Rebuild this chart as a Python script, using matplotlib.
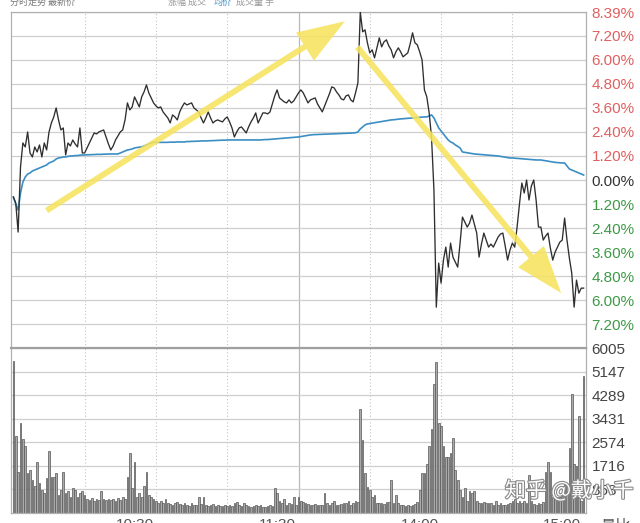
"""
Intraday time-share chart (分时图): price % change + average line on top,
per-minute volume bars below, two hand-drawn yellow trend arrows.
Saves out.png (640x523).
"""

import numpy as np
import matplotlib
matplotlib.use("Agg")
import matplotlib.pyplot as plt
from matplotlib.patches import FancyArrowPatch
import matplotlib.patheffects as pe

# ---- data ------------------------------------------------------------------
# % change vs previous close, one value per minute (0 = 9:30 ... 240 = 15:00)
price = [
    -0.85, -1.15, -2.6, 0.65, 1.85, 1.65, 2.4, 1.35, 1.15, 1.65,
    1.4, 1.75, 1.15, 1.85, 1.5, 2.4, 2.85, 3.15, 3.6, 3.0,
    2.5, 2.6, 1.25, 1.85, 1.7, 2.0, 1.8, 1.65, 2.6, 1.35,
    1.35, 1.6, 1.85, 2.1, 2.35, 2.3, 2.4, 2.45, 2.5, 2.15,
    1.8, 1.5, 1.7, 2.0, 2.2, 2.4, 2.5, 3.0, 3.85, 3.5,
    3.65, 4.15, 3.9, 3.65, 4.15, 4.4, 4.75, 4.35, 4.1, 3.85,
    3.7, 3.6, 3.65, 3.4, 3.25, 3.1, 2.85, 3.25, 3.15, 3.0,
    3.4, 3.65, 3.85, 3.75, 3.8, 3.85, 3.6, 3.5, 3.4, 3.1,
    2.85, 3.1, 3.4, 3.1, 2.85, 2.95, 3.0, 2.95, 2.9, 3.05,
    3.15, 2.9, 2.6, 2.15, 2.4, 2.6, 2.65, 2.5, 2.35, 2.65,
    2.9, 3.1, 3.35, 2.85, 3.1, 3.35, 3.35, 3.3, 3.4, 3.8,
    4.2, 4.5, 4.1, 4.0, 3.9, 3.85, 4.0, 3.85, 3.95, 4.15,
    4.35, 4.5, 4.35, 4.1, 3.85, 4.0, 4.05, 4.1, 3.8, 3.6,
    3.4, 3.7, 4.0, 4.3, 4.65, 4.6, 4.4, 4.25, 4.05, 4.0,
    4.2, 4.25, 4.0, 3.9, 4.35, 4.85, 8.39, 7.4, 7.5, 6.85,
    6.35, 6.5, 6.1, 6.6, 7.1, 6.65, 6.9, 7.0, 6.7, 6.5,
    6.1, 6.4, 6.6, 6.4, 6.15, 6.25, 6.35, 6.8, 7.35, 6.85,
    6.75, 6.4, 6.0, 4.5, 4.15, 3.35, 2.1, -0.5, -6.35, -4.15,
    -5.15, -4.0, -3.35, -4.35, -3.15, -3.85, -4.1, -4.35, -3.15, -1.85,
    -2.1, -2.35, -2.15, -1.75, -2.2, -2.65, -3.85, -3.2, -2.65, -3.0,
    -3.35, -3.2, -3.35, -3.1, -2.85, -2.7, -2.65, -3.3, -4.0, -3.5,
    -3.15, -3.35, -2.35, -1.2, -0.15, -0.65, 0.0, -1.0, -0.3, 0.0,
    -1.0, -2.35, -2.35, -3.0, -2.8, -2.65, -3.4, -4.0, -3.6, -3.35,
    -3.1, -3.0, -1.9, -3.0, -3.9, -4.65, -6.35, -5.0, -5.65, -5.4,
    -5.4,
]

avg_price = [
    -0.85, -1.2, -1.5, -0.65, -0.1, 0.15, 0.3, 0.35, 0.45, 0.5,
    0.55, 0.6, 0.65, 0.7, 0.75, 0.85, 0.9, 0.95, 1.05, 1.1,
    1.12, 1.15, 1.15, 1.18, 1.2, 1.2, 1.22, 1.22, 1.24, 1.25,
    1.25, 1.26, 1.26, 1.27, 1.27, 1.28, 1.28, 1.28, 1.29, 1.29,
    1.3, 1.3, 1.3, 1.3, 1.3, 1.35, 1.4, 1.45, 1.5, 1.52,
    1.55, 1.6, 1.62, 1.64, 1.65, 1.7, 1.75, 1.8, 1.85, 1.88,
    1.88, 1.88, 1.88, 1.88, 1.88, 1.88, 1.89, 1.89, 1.89, 1.9,
    1.9, 1.9, 1.9, 1.92, 1.92, 1.93, 1.93, 1.94, 1.94, 1.95,
    1.95, 1.95, 1.96, 1.96, 1.97, 1.97, 1.98, 1.98, 1.99, 1.99,
    2.0, 2.0, 2.0, 2.0, 2.0, 2.0, 2.0, 2.0, 2.0, 2.0,
    2.0, 2.0, 2.0, 2.0, 2.0, 2.01, 2.02, 2.02, 2.03, 2.04,
    2.05, 2.06, 2.07, 2.08, 2.09, 2.1, 2.11, 2.12, 2.13, 2.14,
    2.15, 2.17, 2.19, 2.21, 2.23, 2.25, 2.26, 2.27, 2.27, 2.28,
    2.28, 2.29, 2.29, 2.3, 2.3, 2.31, 2.31, 2.32, 2.32, 2.33,
    2.33, 2.34, 2.34, 2.35, 2.36, 2.4, 2.55, 2.65, 2.75, 2.8,
    2.82, 2.84, 2.86, 2.88, 2.9, 2.92, 2.94, 2.96, 2.98, 3.0,
    3.01, 3.02, 3.04, 3.05, 3.06, 3.07, 3.08, 3.09, 3.1, 3.11,
    3.12, 3.13, 3.14, 3.15, 3.15, 3.2, 3.25, 3.1, 2.85, 2.6,
    2.45, 2.3, 2.15, 2.0, 1.9, 1.85, 1.75, 1.68, 1.6, 1.4,
    1.38, 1.36, 1.34, 1.32, 1.3, 1.29, 1.28, 1.27, 1.26, 1.25,
    1.24, 1.23, 1.22, 1.21, 1.2, 1.18, 1.16, 1.14, 1.12, 1.1,
    1.1, 1.09, 1.08, 1.07, 1.06, 1.05, 1.04, 1.03, 1.02, 1.01,
    1.0, 1.0, 1.0, 0.98, 0.96, 0.94, 0.92, 0.9, 0.88, 0.87,
    0.86, 0.85, 0.85, 0.7, 0.55, 0.5, 0.45, 0.4, 0.35, 0.3,
    0.25,
]

volume = [
    5540, 2820, 1480, 3290, 2700, 2450, 1440, 1550, 1190, 1000,
    1840, 1110, 830, 720, 1260, 2270, 1300, 1300, 1440, 650,
    830, 1480, 720, 800, 580, 900, 830, 580, 720, 800,
    650, 500, 480, 550, 450, 520, 480, 800, 500, 460,
    520, 480, 500, 450, 560, 480, 600, 520, 1300, 2200,
    900, 1840, 580, 720, 600, 1000, 1480, 650, 580, 500,
    450, 380, 420, 350, 500, 380, 330, 300, 360, 400,
    320, 280, 350, 300, 260, 380, 300, 280, 580, 340,
    580, 300, 260, 280, 330, 250, 300, 270, 240, 300,
    260, 280, 240, 350, 400, 300, 250, 380, 300, 250,
    230, 250, 300, 260, 280, 230, 220, 250, 300, 260,
    900, 720, 420, 350, 500, 300, 380, 330, 580, 300,
    580, 450, 400, 350, 320, 300, 280, 330, 290, 300,
    280, 720, 350, 300, 380, 420, 300, 280, 330, 380,
    350, 420, 300, 380, 450, 400, 3800, 2640, 1440, 940,
    830, 580, 650, 350, 380, 350, 330, 400, 400, 1190,
    350, 650, 380, 300, 280, 270, 300, 250, 280, 330,
    400, 830, 1440, 1440, 1800, 2450, 3070, 4700, 5500, 3290,
    3180, 2450, 2020, 2020, 2170, 2740, 1550, 1190, 830, 580,
    900, 420, 800, 720, 800, 420, 380, 350, 400, 360,
    380, 350, 300, 420, 300, 350, 280, 300, 330, 380,
    420, 500, 380, 450, 350, 450, 380, 1370, 420, 330,
    300, 350, 330, 400, 1480, 1840, 1480, 600, 550, 580,
    600, 620, 1080, 980, 2380, 4340, 1800, 1700, 3540, 420,
    4990,
]

price_ticks = [8.39, 7.20, 6.00, 4.80, 3.60, 2.40, 1.20, 0.00,
               -1.20, -2.40, -3.60, -4.80, -6.00, -7.20]
vol_ticks = [858, 1716, 2574, 3431, 4289, 5147, 6005]
time_labels = ["10:30", "11:30", "14:00", "15:00"]
time_label_pos = [60, 120, 180, 240]

# ---- figure ------------------------------------------------------------------
W, H = 640, 523
fig = plt.figure(figsize=(W / 100, H / 100), dpi=100)
FONT = "Liberation Sans"
GRID = "#cfcfcf"
RED, GREEN = "#e06060", "#3f9a48"


def px_box(x0, y0, x1, y1):
    return [x0 / W, 1 - y1 / H, (x1 - x0) / W, (y1 - y0) / H]


ax = fig.add_axes(px_box(11, 12, 586, 348))
axv = fig.add_axes(px_box(11, 348, 586, 513), sharex=ax)

minutes = np.arange(len(price))

for a in (ax, axv):
    for m in (30, 60, 90, 150, 180, 210):
        a.axvline(m, color="#c4c4c4", lw=0.8, ls=(0, (1, 2)), zorder=0)
    a.axvline(120, color="#b8b8b8", lw=0.9, zorder=0)
    for s in a.spines.values():
        s.set_color("#b0b0b0")
        s.set_linewidth(0.9)
    a.tick_params(axis="both", length=0)
    a.yaxis.tick_right()
    a.set_xticks([])

# price panel
for t in price_ticks:
    ax.axhline(t, color=GRID, lw=0.9, zorder=0)
ax.plot(minutes, avg_price, color="#3b8ec4", lw=1.2, zorder=2)
ax.plot(minutes, price, color="#2e2e2e", lw=0.95, zorder=3)
ax.set_xlim(-1, 241)
ax.set_ylim(-8.39, 8.39)
ax.set_yticks(price_ticks)
ax.set_yticklabels([f"{abs(t):.2f}%" for t in price_ticks],
                   fontsize=11, family=FONT)
for lab, t in zip(ax.get_yticklabels(), price_ticks):
    lab.set_color(RED if t > 0 else (GREEN if t < 0 else "#333333"))
ax.tick_params(axis="y", pad=4)

# volume panel
for t in vol_ticks:
    axv.axhline(t, color=GRID, lw=0.9, zorder=0)
axv.bar(minutes, volume, width=0.7, color="#aaaaaa",
        edgecolor="#555555", linewidth=0.5, zorder=2)
axv.set_ylim(0, 6005)
axv.set_yticks(vol_ticks)
axv.set_yticklabels([str(t) for t in vol_ticks], fontsize=11,
                    family=FONT, color="#444444")
axv.tick_params(axis="y", pad=4)
axv.spines["top"].set_color("#a0a0a0")
axv.spines["top"].set_linewidth(1.6)

# time labels along the bottom edge, mostly cut off by the picture edge
for m, lab in zip(time_label_pos, time_labels):
    fig.text(11 / W + (m) / 242 * 575 / W, 1 - 518 / H, lab,
             ha="right", va="top", fontsize=11, family=FONT,
             color="#555555")
fig.text(600 / W, 1 - 518 / H, "量比", ha="left", va="top",
         fontsize=11, family=["Noto Sans CJK SC", "DejaVu Sans"],
         color="#555555")

# blurred header strip (cut off at the top of the picture)
hdr = dict(ha="left", va="center", fontsize=6.5,
           family=["Noto Sans CJK SC", "DejaVu Sans"])
fig.text(10 / W, 1 - 2 / H, "分时走势 最新价", color="#777777", **hdr)
fig.text(168 / W, 1 - 2 / H, "涨幅 成交", color="#999999", **hdr)
fig.text(214 / W, 1 - 2 / H, "均价", color="#3b8ec4", **hdr)
fig.text(236 / W, 1 - 2 / H, "成交量 手", color="#999999", **hdr)

# yellow trend arrows
ARROW = "#f6e35f"
for (x0, y0), (x1, y1) in [((13, -1.6), (140.5, 8.0)),
                           ((144, 6.75), (231.3, -5.75))]:
    arr = FancyArrowPatch((x0, y0), (x1, y1),
                          arrowstyle="simple,head_width=24,head_length=34,tail_width=4.2",
                          color=ARROW, alpha=0.88, lw=0, zorder=4,
                          mutation_scale=1)
    ax.add_patch(arr)

# watermark
fig.text(505 / W, 1 - 491 / H, "知乎 @戴小千", ha="left", va="center",
         fontsize=15, color="white",
         family=["Noto Sans CJK SC", "DejaVu Sans"],
         path_effects=[pe.Stroke(linewidth=1.6, foreground="#8a8a8a"),
                       pe.Normal()])

fig.savefig("out.png", dpi=100)
plt.close(fig)
